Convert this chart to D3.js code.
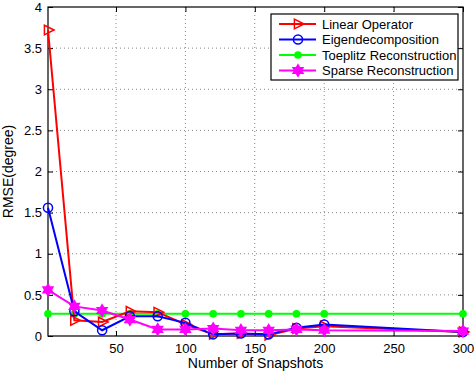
<!DOCTYPE html>
<html>
<head>
<meta charset="utf-8">
<script src="https://cdn.jsdelivr.net/npm/d3@7"></script>
<style>
  body { margin: 0; background: #fff; }
  text { font-family: "Liberation Sans", Arial, sans-serif; fill: #000; }
</style>
</head>
<body>
<div id="chart"></div>
<script>
// data
var snapshots = [1, 20, 40, 60, 80, 100, 120, 140, 160, 180, 200, 300];
var linearOp  = [3.72, 0.19, 0.17, 0.30, 0.29, 0.14, 0.02, 0.03, 0.01, 0.09, 0.12, 0.05];
var eigen     = [1.56, 0.30, 0.07, 0.24, 0.24, 0.16, 0.02, 0.03, 0.02, 0.10, 0.14, 0.05];
var toeplitz  = [0.27, 0.27, 0.27, 0.27, 0.27, 0.27, 0.27, 0.27, 0.27, 0.27, 0.27, 0.27];
var sparse    = [0.56, 0.36, 0.31, 0.20, 0.08, 0.08, 0.09, 0.07, 0.07, 0.08, 0.07, 0.06];
var seriesNames = ["Linear Operator", "Eigendecomposition", "Toeplitz Reconstruction", "Sparse Reconstruction"];
var xTicks = [50, 100, 150, 200, 250, 300];
var yTicks = [0, 0.5, 1, 1.5, 2, 2.5, 3, 3.5, 4];

var width = 474, height = 374;
var margin = {top: 7, right: 11, bottom: 38, left: 48};
var w = width - margin.left - margin.right;
var h = height - margin.top - margin.bottom;

var svg = d3.select("#chart").append("svg")
  .attr("width", width)
  .attr("height", height);
var g = svg.append("g")
  .attr("transform", "translate(" + margin.left + "," + margin.top + ")");

var x = d3.scaleLinear().domain([1, 300]).range([0, w]);
var y = d3.scaleLinear().domain([0, 4]).range([h, 0]);

// dotted grid
g.selectAll(".gx").data(xTicks.filter(function(d) { return d < 300; }))
  .enter().append("line")
  .attr("x1", function(d) { return x(d); }).attr("x2", function(d) { return x(d); })
  .attr("y1", 0).attr("y2", h)
  .style("stroke", "#888").style("stroke-dasharray", "1,3");
g.selectAll(".gy").data(yTicks.filter(function(d) { return d > 0 && d < 4; }))
  .enter().append("line")
  .attr("y1", function(d) { return y(d); }).attr("y2", function(d) { return y(d); })
  .attr("x1", 0).attr("x2", w)
  .style("stroke", "#888").style("stroke-dasharray", "1,3");

// axes, matlab style ticks pointing in
var xAxis = d3.axisBottom(x).tickValues(xTicks).tickSizeInner(-5).tickSizeOuter(0).tickPadding(8);
var yAxis = d3.axisLeft(y).tickValues(yTicks).tickSizeInner(-5).tickSizeOuter(0).tickPadding(6)
  .tickFormat(function(d) { return d; });
var gx = g.append("g").attr("transform", "translate(0," + h + ")").call(xAxis);
var gy = g.append("g").call(yAxis);
g.append("g").call(d3.axisTop(x).tickValues(xTicks).tickSizeInner(-5).tickSizeOuter(0).tickFormat(""));
g.append("g").attr("transform", "translate(" + w + ",0)")
  .call(d3.axisRight(y).tickValues(yTicks).tickSizeInner(-5).tickSizeOuter(0).tickFormat(""));
g.selectAll(".domain").remove();
g.selectAll(".tick line").style("stroke", "#000");
[gx, gy].forEach(function(a) {
  a.selectAll("text").style("font-size", "13px").style("font-family", "Liberation Sans, Arial, sans-serif");
});

g.append("rect")
  .attr("width", w).attr("height", h)
  .style("fill", "none").style("stroke", "#000").style("stroke-width", 1.2);

// six pointed star marker
var hexagram = {
  draw: function(context, size) {
    var r = Math.sqrt(size / 2), ri = r * 0.58;
    for (var i = 0; i < 12; i++) {
      var a = Math.PI / 6 * i - Math.PI / 2;
      var rr = i % 2 === 0 ? r : ri;
      if (i === 0) context.moveTo(rr * Math.cos(a), rr * Math.sin(a));
      else context.lineTo(rr * Math.cos(a), rr * Math.sin(a));
    }
    context.closePath();
  }
};
var triRight = {
  draw: function(context, size) {
    var r = Math.sqrt(size) * 0.6;
    context.moveTo(r, 0);
    context.lineTo(-r * 0.6, -r * 0.8);
    context.lineTo(-r * 0.6, r * 0.8);
    context.closePath();
  }
};

var series = [
  {name: seriesNames[0], values: linearOp, color: "#ff0000", symbol: triRight, size: 100, fill: "none"},
  {name: seriesNames[1], values: eigen, color: "#0000ff", symbol: d3.symbolCircle, size: 65, fill: "none"},
  {name: seriesNames[2], values: toeplitz, color: "#00ff00", symbol: d3.symbolCircle, size: 30, fill: "#00ff00"},
  {name: seriesNames[3], values: sparse, color: "#ff00ff", symbol: hexagram, size: 65, fill: "#ff00ff"}
];

var line = d3.line()
  .x(function(d, i) { return x(snapshots[i]); })
  .y(function(d) { return y(d); });

// green drawn first so the other curves sit on top of it
var order = [2, 0, 1, 3];
order.forEach(function(k) {
  var s = series[k];
  g.append("path")
    .attr("d", line(s.values))
    .style("fill", "none").style("stroke", s.color).style("stroke-width", 2);
  g.selectAll(".m" + k).data(s.values).enter().append("path")
    .attr("class", "m" + k)
    .attr("transform", function(d, i) { return "translate(" + x(snapshots[i]) + "," + y(d) + ")"; })
    .attr("d", d3.symbol().type(s.symbol).size(s.size))
    .style("fill", s.fill).style("stroke", s.color).style("stroke-width", 1.5);
});

// legend
var leg = svg.append("g").attr("transform", "translate(271,14)");
leg.append("rect").attr("width", 187).attr("height", 66)
  .style("fill", "#fff").style("stroke", "#000").style("stroke-width", 1.2);
series.forEach(function(s, i) {
  var yy = 10 + i * 15.5;
  leg.append("line").attr("x1", 8).attr("x2", 45).attr("y1", yy).attr("y2", yy)
    .style("stroke", s.color).style("stroke-width", 2);
  leg.append("path").attr("transform", "translate(27," + yy + ")")
    .attr("d", d3.symbol().type(s.symbol).size(s.size))
    .style("fill", s.fill).style("stroke", s.color).style("stroke-width", 1.5);
  leg.append("text").attr("x", 51).attr("y", yy + 4.5)
    .style("font-size", "13px").text(s.name);
});

// axis titles
svg.append("text")
  .attr("x", margin.left + w / 2).attr("y", 368)
  .attr("text-anchor", "middle").style("font-size", "14px")
  .text("Number of Snapshots");
svg.append("text")
  .attr("transform", "translate(13," + (margin.top + h / 2) + ") rotate(-90)")
  .attr("text-anchor", "middle").style("font-size", "14px")
  .text("RMSE(degree)");
</script>
</body>
</html>
